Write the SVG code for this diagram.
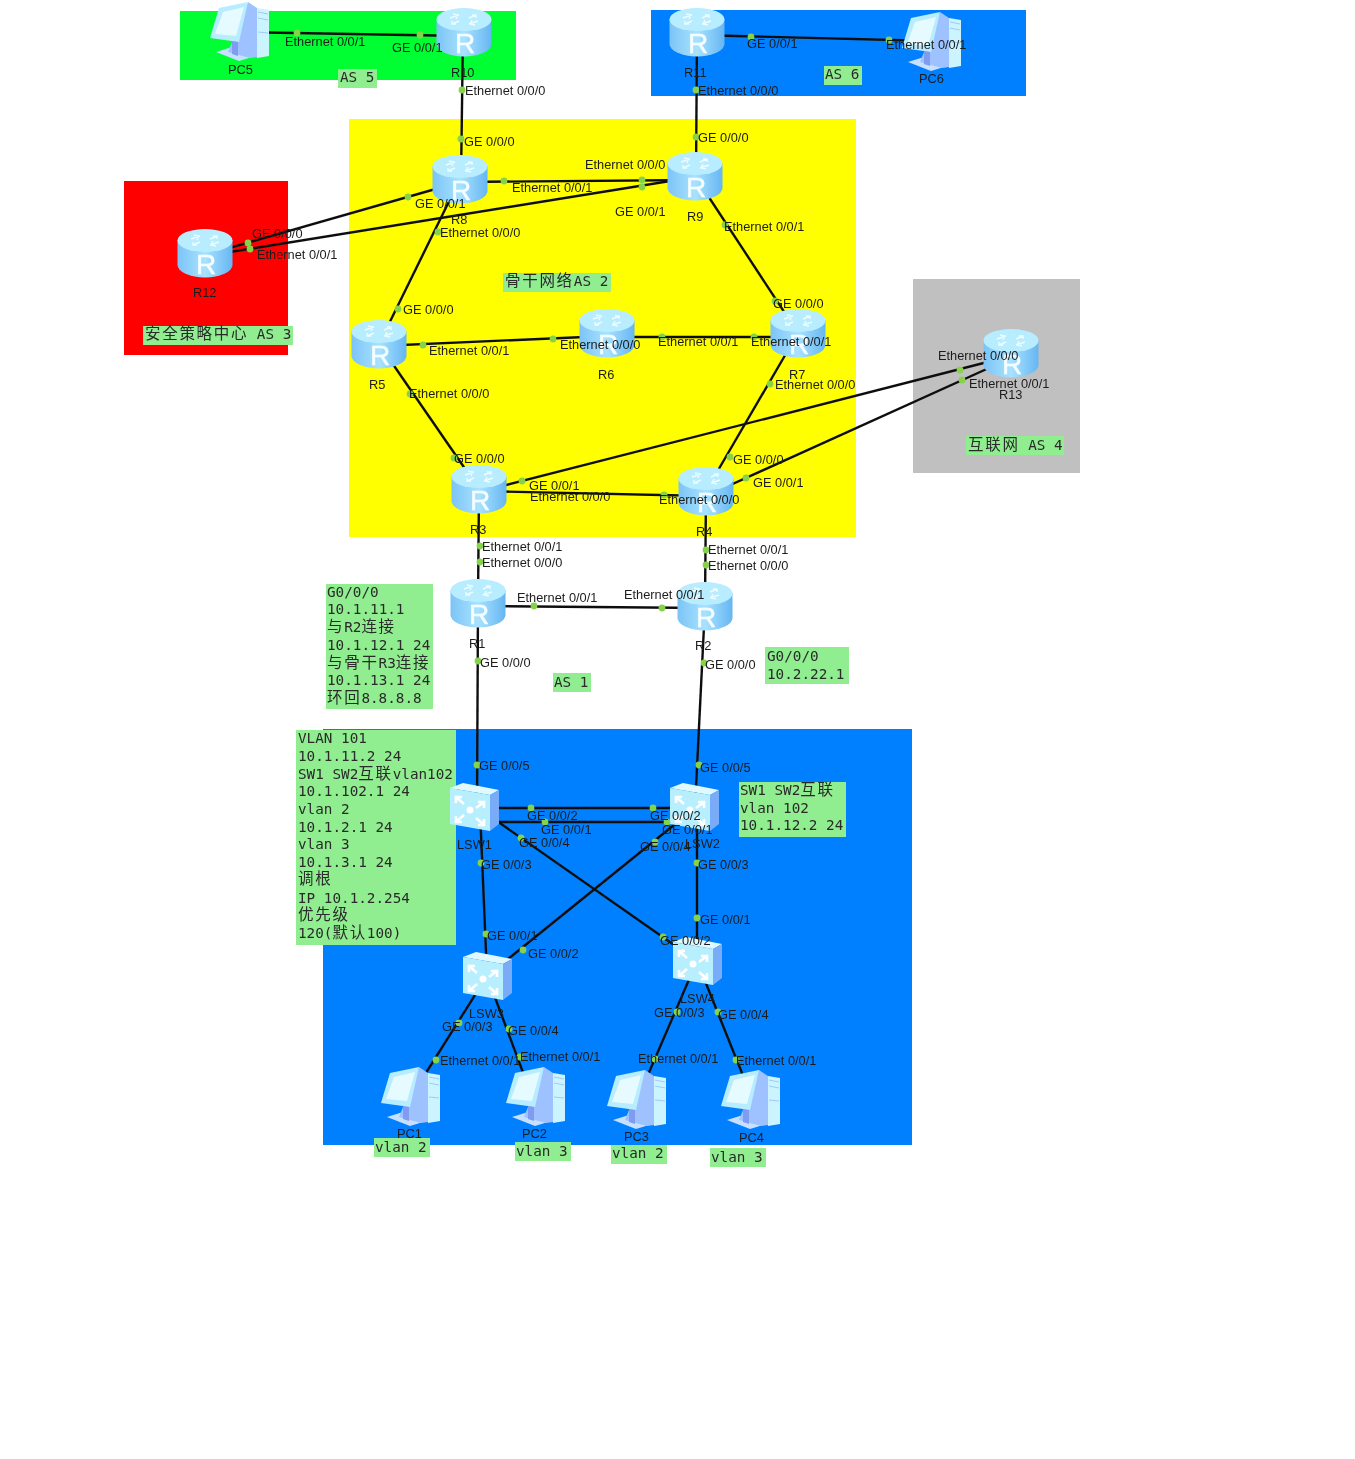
<svg xmlns="http://www.w3.org/2000/svg" xmlns:xlink="http://www.w3.org/1999/xlink" width="1355" height="1459" viewBox="0 0 1355 1459">
<style>
.l{font-family:"Liberation Sans",Arial,sans-serif;font-size:12.8px;fill:#1c1c1c}
.m{font-family:"DejaVu Sans Mono","Noto Sans CJK SC",monospace;font-size:14.3px;fill:#2a2a2a;white-space:pre}
.c{font-family:"Noto Sans CJK SC","DejaVu Sans Mono",sans-serif;font-size:15.5px;letter-spacing:1.7px}
.b{fill:#90ee90}
.w{stroke:#111;stroke-width:2.4;fill:none}
.d{fill:#86d24a}
</style>
<defs>
<filter id="soft" x="0" y="0" width="100%" height="100%"><feGaussianBlur stdDeviation="0.5"/></filter>
<linearGradient id="rg" x1="0" x2="1" y1="0" y2="0"><stop offset="0" stop-color="#7cc4f6"/><stop offset=".5" stop-color="#a8e2ff"/><stop offset="1" stop-color="#66b6f2"/></linearGradient>
<clipPath id="c545"><rect x="440" y="80" width="105" height="22"/></clipPath>
<clipPath id="c563"><rect x="475" y="538" width="88" height="18"/></clipPath>
<clipPath id="c562"><rect x="475" y="555" width="87" height="18"/></clipPath>
<clipPath id="c789"><rect x="700" y="542" width="89" height="16"/></clipPath>
<clipPath id="c788"><rect x="700" y="558" width="88" height="16"/></clipPath>
<symbol id="router" overflow="visible">
<path d="M-27.5-13V12A27.5 12.5 0 0 0 27.5 12V-13Z" fill="url(#rg)"/>
<ellipse cx="0" cy="-12.5" rx="27.5" ry="11.5" fill="#b8edff"/>
<path d="M-14-14l9-3M-11-18l5 1-2 4M14-11l-9 3M11-7l-5-1 2-4M-12-8l7-3M-12-11v3h4M12-17l-7 3M12-14v-3h-4" stroke="#eefcff" stroke-width="1.4" fill="none"/>
<text x="1" y="21" text-anchor="middle" font-family="Liberation Sans,sans-serif" font-size="28" fill="#f4fdff" stroke="#f4fdff" stroke-width=".5">R</text>
</symbol>
<symbol id="switch" overflow="visible">
<path d="M-20-19L-7-24 29-17 20-12Z" fill="#e0f9ff"/>
<path d="M20-12L29-17V17L20 24Z" fill="#78acf8"/>
<path d="M-20-19L20-12V24L-20 17Z" fill="#b8efff"/>
<circle cx="0" cy="3" r="3.5" fill="#fff"/>
<path d="M-14-10l8 7M-14-4v-6h6M14-5l-8 6M14 1v-6h-6M-14 15l8-7M-14 9v6h6M14 18l-8-7M14 12v6h-6" stroke="#fff" stroke-width="2.6" fill="none"/>
</symbol>
<symbol id="pc" overflow="visible">
<path d="M-9 17L-25 22-2 31 11 27Z" fill="#c8e0ff"/>
<path d="M7-28L16-22V27L9 28-13 22Z" fill="#9dc2ff"/>
<path d="M16-22L28-20V26L16 28Z" fill="#ccf4ff"/>
<path d="M17-18L27-16M17-12L27-10M17 2L27 3" stroke="#8fc0f8" stroke-width=".8" fill="none"/>
<path d="M-22-22L7-28-2 12-31 8Z" fill="#b8ecff"/>
<path d="M-18-18L3-23-5 6-26 4Z" fill="#e6fbff"/>
<path d="M-9 11l6 1v14l-6-2Z" fill="#7f9cf0"/>
</symbol>
</defs>
<rect width="1355" height="1459" fill="#fff"/>
<g filter="url(#soft)">
<g id="areas">
<rect x="180" y="11" width="336" height="69" fill="#00ff33"/>
<rect x="651" y="10" width="375" height="86" fill="#0080ff"/>
<rect x="349" y="119" width="507" height="418" fill="#ffff00"/>
<rect x="124" y="181" width="164" height="174" fill="#ff0000"/>
<rect x="913" y="279" width="167" height="194" fill="#c0c0c0"/>
<rect x="323" y="729" width="589" height="416" fill="#0080ff"/>
</g>
<g id="notes">
<rect class="b" x="338" y="69" width="39" height="19"/><text class="m" x="340" y="82">AS 5</text>
<rect class="b" x="824" y="66" width="38" height="19"/><text class="m" x="825" y="79">AS 6</text>
<rect class="b" x="503" y="273" width="108" height="19"/><text class="m" x="505" y="286"><tspan class="c">骨干网络</tspan>AS 2</text>
<rect class="b" x="143" y="326" width="150" height="19"/><text class="m" x="145" y="339"><tspan class="c">安全策略中心</tspan> AS 3</text>
<rect class="b" x="966" y="436" width="98" height="19"/><text class="m" x="968" y="450"><tspan class="c">互联网</tspan> AS 4</text>
<rect class="b" x="553" y="673" width="38" height="19"/><text class="m" x="554" y="687">AS 1</text>
<rect class="b" x="374" y="1138" width="56" height="19"/><text class="m" x="375" y="1152">vlan 2</text>
<rect class="b" x="515" y="1142" width="56" height="19"/><text class="m" x="516" y="1156">vlan 3</text>
<rect class="b" x="611" y="1145" width="56" height="19"/><text class="m" x="612" y="1158">vlan 2</text>
<rect class="b" x="710" y="1148" width="56" height="19"/><text class="m" x="711" y="1162">vlan 3</text>
<rect class="b" x="326" y="584" width="107" height="125"/>
<text class="m" x="327" y="597">G0/0/0</text><text class="m" x="327" y="614">10.1.11.1</text><text class="m" x="327" y="632"><tspan class="c">与</tspan>R2<tspan class="c">连接</tspan></text><text class="m" x="327" y="650">10.1.12.1 24</text><text class="m" x="327" y="668"><tspan class="c">与骨干</tspan>R3<tspan class="c">连接</tspan></text><text class="m" x="327" y="685">10.1.13.1 24</text><text class="m" x="327" y="703"><tspan class="c">环回</tspan>8.8.8.8</text>
<rect class="b" x="765" y="647" width="84" height="37"/>
<text class="m" x="767" y="661">G0/0/0</text><text class="m" x="767" y="679">10.2.22.1</text>
<rect class="b" x="739" y="782" width="107" height="55"/>
<text class="m" x="740" y="795">SW1 SW2<tspan class="c">互联</tspan></text><text class="m" x="740" y="813">vlan 102</text><text class="m" x="740" y="830">10.1.12.2 24</text>
<rect class="b" x="296" y="730" width="160" height="215"/>
<text class="m" x="298" y="743">VLAN 101</text><text class="m" x="298" y="761">10.1.11.2 24</text><text class="m" x="298" y="779">SW1 SW2<tspan class="c">互联</tspan>vlan102</text><text class="m" x="298" y="796">10.1.102.1 24</text><text class="m" x="298" y="814">vlan 2</text><text class="m" x="298" y="832">10.1.2.1 24</text><text class="m" x="298" y="849">vlan 3</text><text class="m" x="298" y="867">10.1.3.1 24</text><text class="m" x="298" y="884"><tspan class="c">调根</tspan></text><text class="m" x="298" y="903">IP 10.1.2.254</text><text class="m" x="298" y="920"><tspan class="c">优先级</tspan></text><text class="m" x="298" y="938">120(<tspan class="c">默认</tspan>100)</text>
</g>
<g id="connectors" class="w">
<path d="M241 32L464 36"/>
<path d="M463 32L461 179"/>
<path d="M697 35L933 41"/>
<path d="M697 32L696 176"/>
<path d="M460 182L695 180"/>
<path d="M460 182L205 255"/>
<path d="M695 177L205 256"/>
<path d="M460 179L379 344"/>
<path d="M695 176L798 333"/>
<path d="M379 346L607 336"/>
<path d="M607 337L798 337"/>
<path d="M798 333L706 491"/>
<path d="M379 344L479 489"/>
<path d="M479 491L706 496"/>
<path d="M479 492L1011 356"/>
<path d="M706 496L1011 358"/>
<path d="M479 489L478 603"/>
<path d="M706 491L705 606"/>
<path d="M478 606L705 608"/>
<path d="M478 603L477 807"/>
<path d="M705 606L695 808"/>
<path d="M474 808H695"/>
<path d="M474 822H695"/>
<path d="M474 805L697 961"/>
<path d="M695 808L487 976"/>
<path d="M480 810L487 976"/>
<path d="M697 808V961"/>
<path d="M487 976L412 1095"/>
<path d="M487 976L537 1110"/>
<path d="M697 961L638 1098"/>
<path d="M697 961L752 1098"/>
</g>
<g id="nodes">
<g id="PC5"><use href="#pc" x="241" y="30"/><text class="l" x="228" y="74">PC5</text></g>
<g id="PC6"><use href="#pc" x="933" y="40"/><text class="l" x="919" y="83">PC6</text></g>
<g id="R10"><use href="#router" x="464" y="32"/><text class="l" x="451" y="77">R10</text></g>
<g id="R11"><use href="#router" x="697" y="32"/><text class="l" x="684" y="77">R11</text></g>
<g id="R8"><use href="#router" x="460" y="179"/><text class="l" x="451" y="224">R8</text></g>
<g id="R9"><use href="#router" x="695" y="176"/><text class="l" x="687" y="221">R9</text></g>
<g id="R12"><use href="#router" x="205" y="253"/><text class="l" x="193" y="297">R12</text></g>
<g id="R5"><use href="#router" x="379" y="344"/><text class="l" x="369" y="389">R5</text></g>
<g id="R6"><use href="#router" x="607" y="333"/><text class="l" x="598" y="379">R6</text></g>
<g id="R7"><use href="#router" x="798" y="333"/><text class="l" x="789" y="379">R7</text></g>
<g id="R13"><use href="#router" x="1011" y="353"/><text class="l" x="999" y="399">R13</text></g>
<g id="R3"><use href="#router" x="479" y="489"/><text class="l" x="470" y="534">R3</text></g>
<g id="R4"><use href="#router" x="706" y="491"/><text class="l" x="696" y="536">R4</text></g>
<g id="R1"><use href="#router" x="478" y="603"/><text class="l" x="469" y="648">R1</text></g>
<g id="R2"><use href="#router" x="705" y="606"/><text class="l" x="695" y="650">R2</text></g>
<g id="LSW1"><use href="#switch" x="470" y="807"/><text class="l" x="457" y="849">LSW1</text></g>
<g id="LSW2"><use href="#switch" x="690" y="807"/><text class="l" x="685" y="848">LSW2</text></g>
<g id="LSW3"><use href="#switch" x="483" y="976"/><text class="l" x="469" y="1018">LSW3</text></g>
<g id="LSW4"><use href="#switch" x="693" y="961"/><text class="l" x="680" y="1003">LSW4</text></g>
<g id="PC1"><use href="#pc" x="412" y="1095"/><text class="l" x="397" y="1138">PC1</text></g>
<g id="PC2"><use href="#pc" x="537" y="1095"/><text class="l" x="522" y="1138">PC2</text></g>
<g id="PC3"><use href="#pc" x="638" y="1098"/><text class="l" x="624" y="1141">PC3</text></g>
<g id="PC4"><use href="#pc" x="752" y="1098"/><text class="l" x="739" y="1142">PC4</text></g>
</g>
<g id="ports" class="d">
<circle cx="297" cy="33" r="3.4"/><circle cx="420" cy="35" r="3.4"/><circle cx="462" cy="90" r="3.4"/><circle cx="461" cy="139" r="3.4"/>
<circle cx="751" cy="37" r="3.4"/><circle cx="889" cy="40" r="3.4"/><circle cx="696" cy="90" r="3.4"/><circle cx="696" cy="137" r="3.4"/>
<circle cx="504" cy="181" r="3.4"/><circle cx="642" cy="180" r="3.4"/><circle cx="408" cy="197" r="3.4"/><circle cx="248" cy="243" r="3.4"/>
<circle cx="642" cy="187" r="3.4"/><circle cx="250" cy="249" r="3.4"/><circle cx="438" cy="232" r="3.4"/><circle cx="398" cy="309" r="3.4"/>
<circle cx="725" cy="225" r="3.4"/><circle cx="775" cy="301" r="3.4"/><circle cx="423" cy="345" r="3.4"/><circle cx="553" cy="339" r="3.4"/>
<circle cx="662" cy="337" r="3.4"/><circle cx="754" cy="337" r="3.4"/><circle cx="770" cy="384" r="3.4"/><circle cx="730" cy="457" r="3.4"/>
<circle cx="410" cy="394" r="3.4"/><circle cx="454" cy="458" r="3.4"/><circle cx="664" cy="495" r="3.4"/>
<circle cx="522" cy="481" r="3.4"/><circle cx="960" cy="370" r="3.4"/><circle cx="746" cy="478" r="3.4"/><circle cx="962" cy="380" r="3.4"/>
<circle cx="480" cy="546" r="3.4"/><circle cx="480" cy="562" r="3.4"/><circle cx="706" cy="550" r="3.4"/><circle cx="706" cy="565" r="3.4"/>
<circle cx="534" cy="606" r="3.4"/><circle cx="662" cy="608" r="3.4"/><circle cx="478" cy="661" r="3.4"/><circle cx="477" cy="765" r="3.4"/>
<circle cx="704" cy="663" r="3.4"/><circle cx="699" cy="765" r="3.4"/><circle cx="531" cy="808" r="3.4"/><circle cx="653" cy="808" r="3.4"/>
<circle cx="545" cy="822" r="3.4"/><circle cx="667" cy="822" r="3.4"/><circle cx="521" cy="838" r="3.4"/><circle cx="663" cy="937" r="3.4"/>
<circle cx="655" cy="842" r="3.4"/><circle cx="523" cy="950" r="3.4"/><circle cx="481" cy="863" r="3.4"/><circle cx="486" cy="934" r="3.4"/>
<circle cx="697" cy="863" r="3.4"/><circle cx="697" cy="918" r="3.4"/><circle cx="459" cy="1023" r="3.4"/><circle cx="436" cy="1060" r="3.4"/>
<circle cx="509" cy="1029" r="3.4"/><circle cx="520" cy="1057" r="3.4"/><circle cx="677" cy="1012" r="3.4"/><circle cx="655" cy="1059" r="3.4"/>
<circle cx="718" cy="1012" r="3.4"/><circle cx="736" cy="1060" r="3.4"/>
</g>
<g id="port-labels" class="l">
<text x="285" y="46">Ethernet 0/0/1</text><text x="392" y="52">GE 0/0/1</text>
<text x="465" y="95" clip-path="url(#c545)">Ethernet 0/0/0</text><text x="698" y="95">Ethernet 0/0/0</text>
<text x="698" y="142">GE 0/0/0</text><text x="747" y="48">GE 0/0/1</text><text x="886" y="49">Ethernet 0/0/1</text>
<text x="464" y="146">GE 0/0/0</text><text x="512" y="192">Ethernet 0/0/1</text><text x="585" y="169">Ethernet 0/0/0</text>
<text x="615" y="216">GE 0/0/1</text><text x="724" y="231">Ethernet 0/0/1</text><text x="415" y="208">GE 0/0/1</text>
<text x="440" y="237">Ethernet 0/0/0</text><text x="252" y="238">GE 0/0/0</text><text x="257" y="259">Ethernet 0/0/1</text>
<text x="403" y="314">GE 0/0/0</text><text x="429" y="355">Ethernet 0/0/1</text><text x="560" y="349">Ethernet 0/0/0</text>
<text x="658" y="346">Ethernet 0/0/1</text><text x="751" y="346">Ethernet 0/0/1</text><text x="773" y="308">GE 0/0/0</text>
<text x="775" y="389">Ethernet 0/0/0</text><text x="409" y="398">Ethernet 0/0/0</text><text x="454" y="463">GE 0/0/0</text>
<text x="733" y="464">GE 0/0/0</text><text x="753" y="487">GE 0/0/1</text><text x="529" y="490">GE 0/0/1</text>
<text x="530" y="501">Ethernet 0/0/0</text><text x="659" y="504">Ethernet 0/0/0</text>
<text x="482" y="551" clip-path="url(#c563)">Ethernet 0/0/1</text><text x="482" y="567" clip-path="url(#c562)">Ethernet 0/0/0</text>
<text x="708" y="554" clip-path="url(#c789)">Ethernet 0/0/1</text><text x="708" y="570" clip-path="url(#c788)">Ethernet 0/0/0</text>
<text x="517" y="602">Ethernet 0/0/1</text><text x="624" y="599">Ethernet 0/0/1</text>
<text x="480" y="667">GE 0/0/0</text><text x="705" y="669">GE 0/0/0</text>
<text x="479" y="770">GE 0/0/5</text><text x="700" y="772">GE 0/0/5</text>
<text x="527" y="820">GE 0/0/2</text><text x="541" y="834">GE 0/0/1</text><text x="519" y="847">GE 0/0/4</text>
<text x="650" y="820">GE 0/0/2</text><text x="662" y="834">GE 0/0/1</text><text x="640" y="851">GE 0/0/4</text>
<text x="481" y="869">GE 0/0/3</text><text x="698" y="869">GE 0/0/3</text><text x="487" y="940">GE 0/0/1</text>
<text x="528" y="958">GE 0/0/2</text><text x="700" y="924">GE 0/0/1</text><text x="660" y="945">GE 0/0/2</text>
<text x="442" y="1031">GE 0/0/3</text><text x="508" y="1035">GE 0/0/4</text><text x="654" y="1017">GE 0/0/3</text><text x="718" y="1019">GE 0/0/4</text>
<text x="440" y="1065">Ethernet 0/0/1</text><text x="520" y="1061">Ethernet 0/0/1</text><text x="638" y="1063">Ethernet 0/0/1</text><text x="736" y="1065">Ethernet 0/0/1</text>
<text x="938" y="360">Ethernet 0/0/0</text><text x="969" y="388">Ethernet 0/0/1</text>
</g>
</g>
</svg>
